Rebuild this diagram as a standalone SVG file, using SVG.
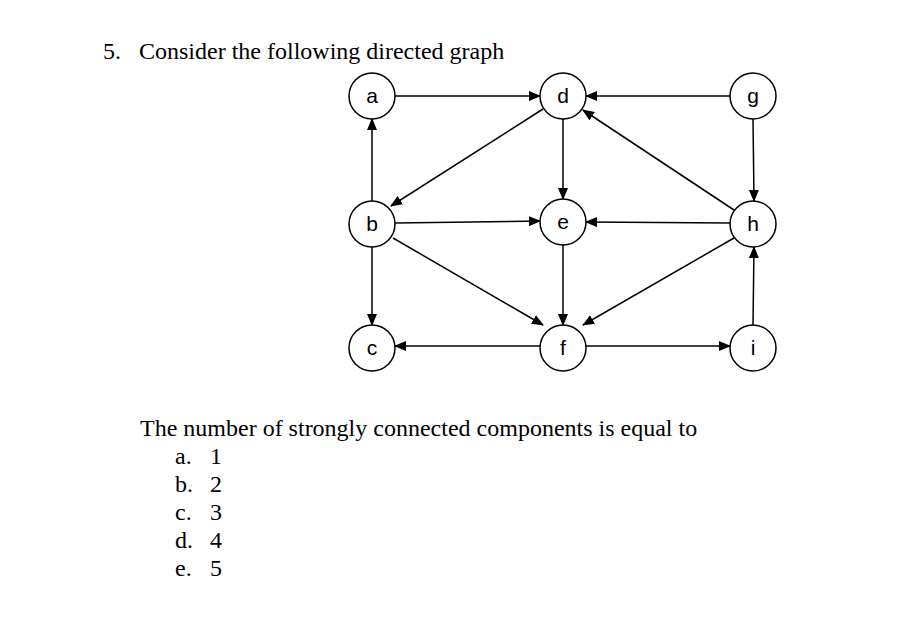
<svg xmlns="http://www.w3.org/2000/svg" width="909" height="638" viewBox="0 0 909 638">
<style>
.n circle{fill:#fff;stroke:#000;stroke-width:1.5}
.n text{font-family:"Liberation Sans",Arial,sans-serif;font-size:21px;text-anchor:middle}
.t{font-family:"Liberation Serif","Times New Roman",serif;font-size:24px}
#edges line{stroke:#000;stroke-width:1.5;marker-end:url(#ah)}
</style>
<defs><marker id="ah" markerWidth="12" markerHeight="10" refX="11" refY="5" orient="auto" markerUnits="userSpaceOnUse"><path d="M0,0L12,5L0,10z"/></marker></defs>
<rect width="909" height="638" fill="#fff"/>
<text class="t" x="103" y="59">5.</text><text class="t" x="139" y="59">Consider the following directed graph</text>
<g id="edges">
<line x1="395" y1="96" x2="540" y2="96"/>
<line x1="730" y1="96" x2="586" y2="96"/>
<line x1="543" y1="109" x2="391" y2="206"/>
<line x1="563" y1="119" x2="563" y2="199"/>
<line x1="734" y1="210" x2="583" y2="110"/>
<line x1="753" y1="119" x2="754" y2="201"/>
<line x1="372" y1="201" x2="372" y2="119"/>
<line x1="395" y1="223" x2="540" y2="221"/>
<line x1="730" y1="223" x2="586" y2="222"/>
<line x1="372" y1="247" x2="372" y2="325"/>
<line x1="393" y1="238" x2="543" y2="325"/>
<line x1="563" y1="245" x2="563" y2="325"/>
<line x1="734" y1="238" x2="583" y2="325"/>
<line x1="540" y1="346" x2="395" y2="346"/>
<line x1="586" y1="346" x2="730" y2="346"/>
<line x1="753" y1="325" x2="754" y2="247"/>
</g>
<g id="a" class="n"><circle cx="372" cy="96" r="23"/><text x="372" y="103">a</text></g>
<g id="d" class="n"><circle cx="563" cy="96" r="23"/><text x="563" y="103">d</text></g>
<g id="g" class="n"><circle cx="753" cy="96" r="23"/><text x="753" y="103">g</text></g>
<g id="b" class="n"><circle cx="372" cy="224" r="23"/><text x="372" y="231">b</text></g>
<g id="e" class="n"><circle cx="563" cy="222" r="23"/><text x="563" y="229">e</text></g>
<g id="h" class="n"><circle cx="753" cy="224" r="23"/><text x="753" y="231">h</text></g>
<g id="c" class="n"><circle cx="372" cy="348" r="23"/><text x="372" y="355">c</text></g>
<g id="f" class="n"><circle cx="563" cy="348" r="23"/><text x="563" y="355">f</text></g>
<g id="i" class="n"><circle cx="753" cy="348" r="23"/><text x="753" y="355">i</text></g>
<text class="t" x="140" y="436">The number of strongly connected components is equal to</text>
<text class="t" x="175" y="464">a.</text><text class="t" x="210" y="464">1</text>
<text class="t" x="175" y="492">b.</text><text class="t" x="210" y="492">2</text>
<text class="t" x="175" y="520">c.</text><text class="t" x="210" y="520">3</text>
<text class="t" x="175" y="548">d.</text><text class="t" x="210" y="548">4</text>
<text class="t" x="175" y="576">e.</text><text class="t" x="210" y="576">5</text>
</svg>
